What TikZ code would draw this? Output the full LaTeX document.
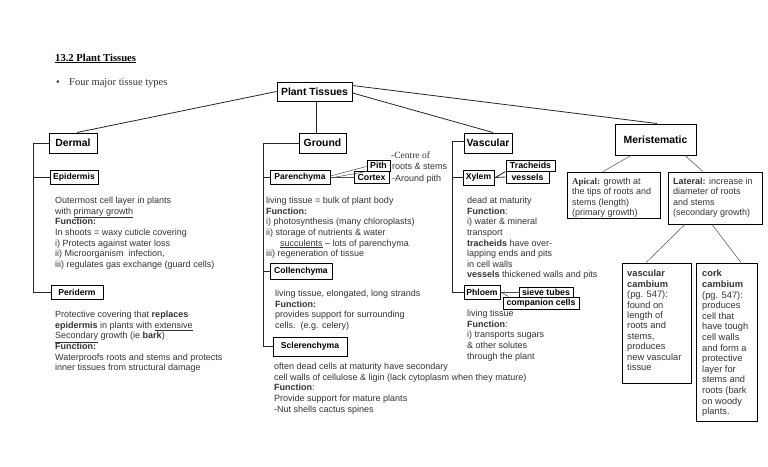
\documentclass[tikz,border=0pt]{standalone}
\usepackage{fontspec}
\setmainfont{Liberation Sans}
\newfontfamily\seriffont{Liberation Serif}
\begin{document}
\begin{tikzpicture}[x=1pt,y=-1pt,
  catbox/.style={draw, line width=1pt, font=\fontsize{10.4}{12}\selectfont\bfseries, inner sep=0pt},
  subbox/.style={draw, line width=1pt, font=\fontsize{8.6}{10}\selectfont\bfseries, inner sep=0pt},
  smallbox/.style={draw, line width=1pt, font=\fontsize{8.8}{10}\selectfont\bfseries, inner sep=0pt},
  infobox/.style={draw, line width=0.9pt, inner sep=0pt},
  bodytext/.style={anchor=north west, align=left, inner sep=0pt, font=\fontsize{9}{10.6}\selectfont, text=black!80},
  conn/.style={line width=0.8pt, draw=black!85},
  thinconn/.style={line width=0.5pt, draw=black!70}]
\useasboundingbox[fill=white] (0,0) rectangle (768,466);

% title
\node[anchor=base west, inner sep=0pt, font=\seriffont\fontsize{10.6}{12}\selectfont\bfseries] (title) at (55,61) {\underline{13.2 Plant Tissues}};
\node[anchor=base west, inner sep=0pt, font=\seriffont\fontsize{10.5}{12}\selectfont, text=black!80] (bullet) at (56,85) {•};
\node[anchor=base west, inner sep=0pt, font=\seriffont\fontsize{10.5}{12}\selectfont, text=black!80] (intro) at (69,85) {Four major tissue types};

% main boxes
\node[catbox, minimum width=75pt, minimum height=19pt] (pt) at (314.5,91.5) {Plant Tissues};
\node[catbox, minimum width=48pt, minimum height=20pt] (dermal) at (73,143) {Dermal};
\node[catbox, minimum width=47pt, minimum height=20pt] (ground) at (322.5,143) {Ground};
\node[catbox, minimum width=48pt, minimum height=20pt] (vascular) at (488,143) {Vascular};
\node[catbox, minimum width=81pt, minimum height=31pt] (meri) at (655.5,139.5) {Meristematic};

% sub boxes
\node[subbox, minimum width=48pt, minimum height=14pt] (epidermis) at (74,177) {Epidermis};
\node[subbox, minimum width=52pt, minimum height=14pt] (periderm) at (77,292) {Periderm};
\node[subbox, minimum width=60pt, minimum height=14pt] (parenchyma) at (300,177) {Parenchyma};
\node[subbox, minimum width=62pt, minimum height=16pt] (collen) at (301,271) {Collenchyma};
\node[subbox, minimum width=74pt, minimum height=19pt] (scleren) at (310,346.5) {Sclerenchyma};
\node[subbox, minimum width=31pt, minimum height=15pt] (xylem) at (478.5,177.5) {Xylem};
\node[subbox, minimum width=36pt, minimum height=14pt] (phloem) at (482,292) {Phloem};

% small boxes
\node[smallbox, minimum width=23pt, minimum height=11pt] (pith) at (378.5,165.5) {Pith};
\node[smallbox, minimum width=35pt, minimum height=12pt] (cortex) at (371.5,177) {Cortex};
\node[smallbox, minimum width=49pt, minimum height=11pt] (tracheids) at (530.5,165.5) {Tracheids};
\node[smallbox, minimum width=43pt, minimum height=12pt] (vessels) at (527.5,177) {vessels};
\node[smallbox, minimum width=54pt, minimum height=10pt] (sieve) at (546,292) {sieve tubes};
\node[smallbox, minimum width=76pt, minimum height=12pt] (companion) at (541,303) {companion cells};

% info boxes
\node[infobox, minimum width=93pt, minimum height=46pt] (apical) at (613.5,195) {};
\node[infobox, minimum width=94pt, minimum height=52pt] (lateral) at (715,198) {};
\node[infobox, minimum width=69pt, minimum height=120pt] (vcamb) at (656.5,323) {};
\node[infobox, minimum width=61pt, minimum height=158pt] (cork) at (726.5,342) {};

% trunk coordinates
\coordinate (dtr) at (33,0);
\coordinate (gtr) at (263,0);
\coordinate (vtr) at (452,0);

% connectors
\draw[conn] (pt.west) -- ([xshift=4pt]dermal.north);
\draw[conn] ([yshift=6pt]pt.east) -- ([xshift=1.5pt]meri.north);
\draw[conn] ([yshift=-1.5pt]pt.east) -- ([xshift=5pt]vascular.north);
\draw[conn] ([xshift=1.5pt]pt.south) -- ([xshift=-6.5pt]ground.north);

\draw[conn] (dermal.west) -- (dermal.west -| dtr) |- (periderm.west);
\draw[conn] (epidermis.west) -- (epidermis.west -| dtr);
\draw[conn] (ground.west) -- (ground.west -| gtr) |- (scleren.west);
\draw[conn] (parenchyma.west) -- (parenchyma.west -| gtr);
\draw[conn] (collen.west) -- (collen.west -| gtr);
\draw[conn] ([yshift=2pt]vascular.west) -- ([yshift=2pt]vascular.west -| vtr) |- (phloem.west);
\draw[conn] (xylem.west) -- (xylem.west -| vtr);

\draw[thinconn] ([yshift=1pt]parenchyma.east) -- ([yshift=-1pt]pith.west);
\draw[thinconn] ([yshift=-1pt]parenchyma.east) -- (pith.south west);
\draw[thinconn] (parenchyma.east) -- (cortex.west);
\draw[conn] (xylem.east) -- (vessels.west);
\draw[conn] ([xshift=1pt]xylem.east) -- (tracheids.south west);
\draw[thinconn] (phloem.east) -- (sieve.west);
\draw[thinconn] (phloem.east) -- ([xshift=6pt]companion.north west);

\draw[thinconn] ([xshift=-24.5pt]meri.south) -- ([xshift=-10.5pt]apical.north);
\draw[thinconn] ([xshift=29.5pt]meri.south) -- ([xshift=-12pt]lateral.north);
\draw[thinconn] ([xshift=-30pt]lateral.south) -- ([xshift=-10.5pt]vcamb.north);
\draw[thinconn] ([xshift=-3pt]lateral.south) -- ([xshift=14.5pt]cork.north);

% annotations near pith / cortex
\node[anchor=base west, inner sep=0pt, font=\seriffont\fontsize{9.5}{10}\selectfont, text=black!80] (centre) at (391,158) {-Centre of};
\node[anchor=base west, inner sep=0pt, font=\fontsize{9}{10}\selectfont, text=black!80] (rootsstems) at (392,169) {roots \& stems};
\node[anchor=base west, inner sep=0pt, font=\fontsize{9}{10}\selectfont, text=black!80] (aroundpith) at (392,181) {-Around pith};

% body texts
\node[bodytext] (epitext) at (55,197) {Outermost cell layer in plants\\
with \underline{primary growth}\\
\textbf{Function:}\\
In shoots = waxy cuticle covering\\
i) Protects against water loss\\
ii) Microorganism\ \ infection,\\
iii) regulates gas exchange (guard cells)};

\node[bodytext] (peritext) at (55,311) {Protective covering that \textbf{replaces}\\
\textbf{epidermis} in plants with \underline{extensive}\\
\underline{Secondary} growth (ie \textbf{bark})\\
\textbf{Function:}\\
Waterproofs roots and stems and protects\\
inner tissues from structural damage};

\node[bodytext] (partext) at (266,197) {living tissue = bulk of plant body\\
\textbf{Function:}\\
i) photosynthesis (many chloroplasts)\\
ii) storage of nutrients \& water\\
\hspace*{14pt}\underline{succulents} – lots of parenchyma\\
iii) regeneration of tissue};

\node[bodytext] (coltext) at (275,290) {living tissue, elongated, long strands\\
\textbf{Function:}\\
provides support for surrounding\\
cells.\ \ (e.g. celery)};

\node[bodytext] (scltext) at (274,363) {often dead cells at maturity have secondary\\
cell walls of cellulose \& ligin (lack cytoplasm when they mature)\\
\textbf{Function}:\\
Provide support for mature plants\\
-Nut shells cactus spines};

\node[bodytext] (xyltext) at (467,197) {dead at maturity\\
\textbf{Function}:\\
i) water \& mineral\\
transport\\
\textbf{tracheids} have over-\\
lapping ends and pits\\
in cell walls\\
\textbf{vessels} thickened walls and pits};

\node[bodytext] (phltext) at (467,310) {living tissue\\
\textbf{Function}:\\
i) transports sugars\\
\& other solutes\\
through the plant};

\node[bodytext, font=\fontsize{9}{10.2}\selectfont] (apitext) at (572,178) {{\seriffont\bfseries Apical:} growth at\\
the tips of roots and\\
stems (length)\\
(primary growth)};

\node[bodytext, font=\fontsize{9}{10.2}\selectfont] (lattext) at (673,178) {\textbf{Lateral:} increase in\\
diameter of roots\\
and stems\\
(secondary growth)};

\node[bodytext, font=\fontsize{9.3}{10.4}\selectfont] (vctext) at (627,270) {\textbf{vascular}\\
\textbf{cambium}\\
(pg. 547):\\
found on\\
length of\\
roots and\\
stems,\\
produces\\
new vascular\\
tissue};

\node[bodytext, font=\fontsize{9.3}{10.6}\selectfont] (cctext) at (702,270) {\textbf{cork}\\
\textbf{cambium}\\
(pg. 547):\\
produces\\
cell that\\
have tough\\
cell walls\\
and form a\\
protective\\
layer for\\
stems and\\
roots (bark\\
on woody\\
plants.};
\end{tikzpicture}
\end{document}
